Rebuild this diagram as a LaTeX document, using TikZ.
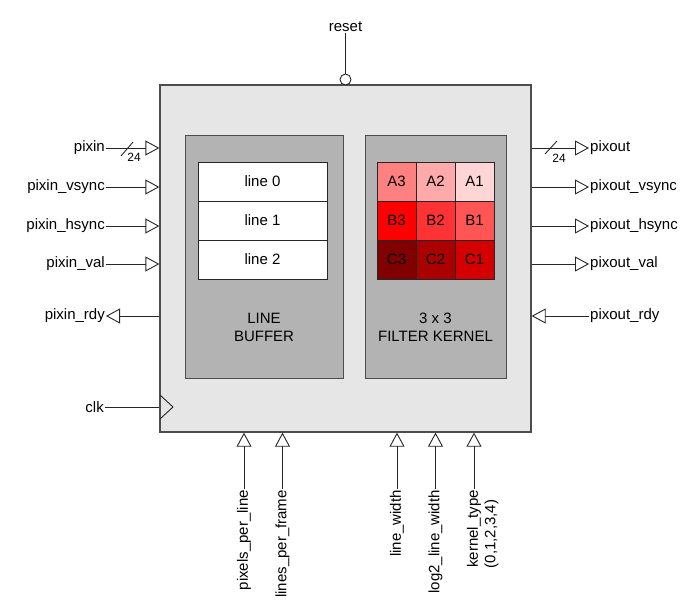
\documentclass[tikz,border=0pt]{standalone}
\usepackage{fontspec}
\setmainfont{Liberation Sans}
\usetikzlibrary{arrows.meta}
\definecolor{boxgray}{HTML}{E6E6E6}
\definecolor{subgray}{HTML}{B3B3B3}
\definecolor{edgegray}{HTML}{4D4D4D}
\definecolor{kA3}{HTML}{FF8080}
\definecolor{kA2}{HTML}{FFAAAA}
\definecolor{kA1}{HTML}{FFD5D5}
\definecolor{kB3}{HTML}{FF0000}
\definecolor{kB2}{HTML}{FF3333}
\definecolor{kB1}{HTML}{FF5555}
\definecolor{kC3}{HTML}{800000}
\definecolor{kC2}{HTML}{AA0000}
\definecolor{kC1}{HTML}{D40000}
\begin{document}
\begin{tikzpicture}[x=1pt,y=-1pt,
  txt/.style={font=\fontsize{15}{18}\selectfont, inner sep=1pt},
  small/.style={font=\fontsize{12}{14}\selectfont, inner sep=0pt},
  mainbox/.style={draw=edgegray, fill=boxgray, line width=1.3pt, inner sep=0pt},
  subbox/.style={draw=edgegray, fill=subgray, line width=1pt, inner sep=0pt, minimum height=243pt},
  rowbox/.style={draw=black!85, fill=white, line width=0.9pt, minimum width=129pt, minimum height=39pt, inner sep=0pt, font=\fontsize{15}{18}\selectfont},
  cell/.style={draw=black!85, line width=0.9pt, minimum width=39pt, minimum height=39pt, inner sep=0pt, font=\fontsize{15}{18}\selectfont},
  pin/.style={draw=black!85, line width=0.9pt},
  tin/.style={-{Triangle[open,length=14pt,width=15pt]}},
  bus/.style={draw=black!85, line width=0.9pt}
]
\useasboundingbox (0,0) rectangle (700,611);

% main block
\node[mainbox, minimum width=371pt, minimum height=347pt] (blk) at (345.5,258.5) {};

% line buffer
\node[subbox, minimum width=158pt] (lb) at (264,256.5) {};
\node[rowbox] (l0) at (262.5,181.5) {line 0};
\node[rowbox] (l1) at (262.5,220.5) {line 1};
\node[rowbox] (l2) at (262.5,259.5) {line 2};
\node[txt, align=center] (lbt) at (264,327) {LINE\\BUFFER};

% filter kernel
\node[subbox, minimum width=141pt] (fk) at (435.5,256.5) {};
\node[cell, fill=kA3] (a3) at (396.5,181.5) {A3};
\node[cell, fill=kA2] (a2) at (435.5,181.5) {A2};
\node[cell, fill=kA1] (a1) at (474.5,181.5) {A1};
\node[cell, fill=kB3] (b3) at (396.5,220.5) {B3};
\node[cell, fill=kB2] (b2) at (435.5,220.5) {B2};
\node[cell, fill=kB1] (b1) at (474.5,220.5) {B1};
\node[cell, fill=kC3] (c3) at (396.5,259.5) {C3};
\node[cell, fill=kC2] (c2) at (435.5,259.5) {C2};
\node[cell, fill=kC1] (c1) at (474.5,259.5) {C1};
\node[txt, align=center] (fkt) at (435.5,327.5) {3 x 3\\FILTER KERNEL};

% reset
\node[txt] (rst) at (345.5,27) {reset};
\node[circle, draw=black!85, fill=white, line width=0.9pt, minimum size=11pt, inner sep=0pt] (rc) at (345.5,79.5) {};
\draw[pin] (rst.south) -- (rc.north);

% left inputs
\node[txt, anchor=east] (pin) at (106,148) {pixin};
\node[txt, anchor=east] (pvs) at (106,187) {pixin\_vsync};
\node[txt, anchor=east] (phs) at (106,226) {pixin\_hsync};
\node[txt, anchor=east] (pva) at (106,264) {pixin\_val};
\node[txt, anchor=east] (prd) at (106,316) {pixin\_rdy};
\node[txt, anchor=east] (clk) at (105,407) {clk};
\foreach \n in {pin,pvs,phs,pva}
  \draw[pin,tin] (\n.east) -- (\n.east -| blk.west);
\draw[pin,tin] (prd.east -| blk.west) -- (prd.east);
\draw[pin] (clk.east) -- (clk.east -| blk.west);
\coordinate (ck1) at (160,395);
\coordinate (ck2) at (173,407);
\coordinate (ck3) at (160,419);
\draw[pin, line join=miter] (ck1) -- (ck2) -- (ck3);
% bus marker in
\coordinate (bi1) at (121,156);
\coordinate (bi2) at (133,142);
\draw[bus] (bi1) -- (bi2);
\node[small] (bin) at (134,157.5) {24};

% right outputs
\node[txt, anchor=west] (pout) at (589,148) {pixout};
\node[txt, anchor=west] (povs) at (589,187) {pixout\_vsync};
\node[txt, anchor=west] (pohs) at (589,226) {pixout\_hsync};
\node[txt, anchor=west] (pova) at (589,264) {pixout\_val};
\node[txt, anchor=west] (pord) at (589,316) {pixout\_rdy};
\foreach \n in {pout,povs,pohs,pova}
  \draw[pin,tin] (\n.west -| blk.east) -- (\n.west);
\draw[pin,tin] (pord.west) -- (pord.west -| blk.east);
% bus marker out
\coordinate (bo1) at (545,154);
\coordinate (bo2) at (557,141);
\draw[bus] (bo1) -- (bo2);
\node[small] (bout) at (559,158.5) {24};

% bottom parameters
\node[txt, rotate=90, anchor=east] (ppl) at (244,489) {pixels\_per\_line};
\node[txt, rotate=90, anchor=east] (lpf) at (282.5,489) {lines\_per\_frame};
\node[txt, rotate=90, anchor=east] (lw) at (397,489) {line\_width};
\node[txt, rotate=90, anchor=east] (llw) at (435.5,489) {log2\_line\_width};
\node[txt, rotate=90, anchor=east] (kt) at (474,489) {kernel\_type};
\node[txt, rotate=90] (kt2) at (491.5,534) {(0,1,2,3,4)};
\foreach \n in {ppl,lpf,lw,llw,kt}
  \draw[pin,tin] (\n.east) -- (\n.east |- blk.south);
\end{tikzpicture}
\end{document}
